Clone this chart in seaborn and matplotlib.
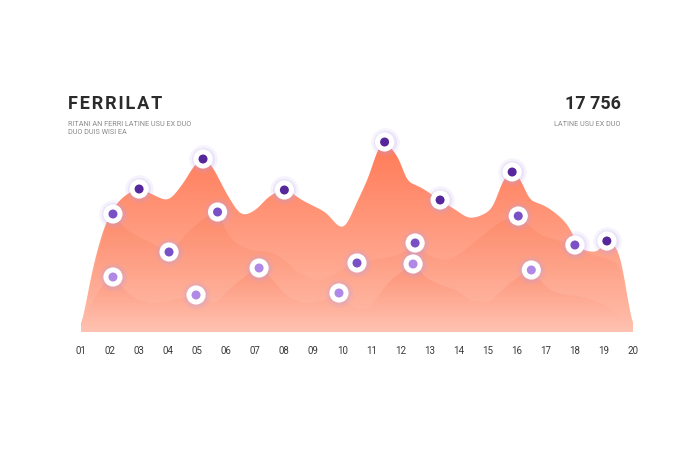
import numpy as np
import matplotlib as mpl
import matplotlib.pyplot as plt
import seaborn as sns

# x in tick units (01..20), y in pixel heights above baseline
top_x = [1.0, 1.5, 2.0, 2.5, 3.0, 3.5, 3.95, 4.5, 4.95, 5.2, 5.45, 5.7, 6.0, 6.6, 7.0, 7.5, 8.0, 8.6, 9.0,
         9.4, 10.0, 10.5, 11.0, 11.2, 11.45, 11.7, 12.0, 12.2, 12.67, 13.36, 13.9, 14.4, 15.1, 15.6, 15.84,
         16.1, 16.46, 16.9, 17.7, 18.28, 18.76, 19.1, 19.45, 20.0]
top_y = [2, 75, 118, 136, 143, 137, 132, 148, 168, 173, 168, 156, 139, 117, 122, 136, 142, 132, 126,
         120, 104, 130, 163, 182, 190, 183, 170, 152, 145, 132, 122, 114, 122, 155, 160,
         154, 132, 127, 109, 82, 80, 91, 84, 2]

mid_x = [1.0, 1.5, 2.1, 2.5, 3.0, 3.5, 4.03, 4.5, 5.0, 5.7, 6.0, 6.5, 7.0, 7.5, 8.0, 8.6, 9.2, 9.7, 10.1,
         10.5, 11.0, 11.5, 12.0, 12.5, 13.0, 13.6, 14.1, 14.8, 15.4, 16.05, 16.5, 17.0, 17.5, 18.0, 18.5,
         19.0, 19.5, 20.0]
mid_y = [2, 70, 118, 104, 95, 88, 80, 94, 108, 120, 100, 86, 81, 80, 72, 57, 52, 57, 65,
         69, 72, 74, 78, 89, 76, 72, 80, 96, 109, 116, 104, 95, 91, 87, 78,
         74, 68, 2]

low_x = [1.0, 1.5, 2.1, 2.5, 3.0, 3.5, 4.0, 4.5, 4.96, 5.6, 6.0, 6.5, 7.13, 7.6, 8.1, 8.8, 9.4, 9.88, 10.3,
         10.8, 11.2, 11.6, 12.0, 12.43, 12.8, 13.3, 13.9, 14.5, 15.0, 15.5, 16.0, 16.5, 17.0, 17.5, 18.0,
         18.5, 19.0, 19.5, 20.0]
low_y = [2, 36, 55, 42, 32, 29, 31, 34, 37, 29, 40, 52, 64, 52, 36, 29, 32, 39, 26,
         22, 35, 50, 59, 68, 56, 48, 42, 31, 30, 42, 54, 62, 45, 38, 36,
         33, 27, 18, 2]

# markers on each layer
dark_x = [3.0, 5.2, 8.0, 11.45, 13.36, 15.84, 19.1]
dark_y = [143, 173, 142, 190, 132, 160, 91]
mid_mx = [2.1, 4.03, 5.7, 10.5, 12.5, 16.05, 18.0]
mid_my = [118, 80, 120, 69, 89, 116, 87]
light_x = [2.1, 4.96, 7.13, 9.88, 12.43, 16.5]
light_y = [55, 37, 64, 39, 68, 62]

ticks = list(range(1, 21))
tick_labels = [f'{t:02d}' for t in ticks]


def pchip(x, y, xs):
    x = np.asarray(x, float)
    y = np.asarray(y, float)
    h = np.diff(x)
    d = np.diff(y) / h
    m = np.zeros_like(y)
    m[0], m[-1] = d[0], d[-1]
    for k in range(1, len(x) - 1):
        if d[k - 1] * d[k] > 0:
            w1 = 2 * h[k] + h[k - 1]
            w2 = h[k] + 2 * h[k - 1]
            m[k] = (w1 + w2) / (w1 / d[k - 1] + w2 / d[k])
    idx = np.clip(np.searchsorted(x, xs) - 1, 0, len(x) - 2)
    t = (xs - x[idx]) / h[idx]
    h00 = 2 * t**3 - 3 * t**2 + 1
    h10 = t**3 - 2 * t**2 + t
    h01 = -2 * t**3 + 3 * t**2
    h11 = t**3 - t**2
    return h00 * y[idx] + h10 * h[idx] * m[idx] + h01 * y[idx + 1] + h11 * h[idx] * m[idx + 1]


def soften(ys, step, sigma=0.11):
    # round off the corners a little, like the original's smooth outline
    n = int(3 * sigma / step)
    k = np.exp(-0.5 * (np.arange(-n, n + 1) * step / sigma) ** 2)
    k /= k.sum()
    padded = np.pad(ys, n, mode='edge')
    return np.convolve(padded, k, mode='valid')


sns.set_theme(style='white')
plt.rcParams['font.family'] = ['Roboto', 'DejaVu Sans']

fig = plt.figure(figsize=(7, 4.5), dpi=100)
ax = fig.add_axes([81 / 700, 118 / 450, 552 / 700, 200 / 450])

xs = np.linspace(1, 20, 1201)
step = xs[1] - xs[0]
layers = [
    (top_x, top_y, '#ff7a57', '#ffc0ad', 1.0),
    (mid_x, mid_y, '#fd8766', '#ffc0ae', 0.8),
    (low_x, low_y, '#fd8c6e', '#ffc4b4', 0.75),
]
for lx, ly, c_top, c_bot, a in layers:
    ys = np.maximum(soften(pchip(lx, ly, xs), step), 0)
    poly = ax.fill_between(xs, ys, 0, color='none', lw=0)
    cmap = mpl.colors.LinearSegmentedColormap.from_list('g', [c_bot, c_top])
    grad = np.linspace(0, 1, 256).reshape(-1, 1)
    im = ax.imshow(grad, extent=[1, 20, 0, max(ly)], origin='lower', aspect='auto',
                   cmap=cmap, alpha=a, zorder=1)
    im.set_clip_path(poly.get_paths()[0], transform=ax.transData)

for mx, my, c in [(dark_x, dark_y, '#56279a'), (mid_mx, mid_my, '#7a50c6'), (light_x, light_y, '#b088e6')]:
    ax.scatter(mx, my, s=420, color='#b9a0ee', alpha=0.12, lw=0, zorder=3, clip_on=False)
    ax.scatter(mx, my, s=280, color='#b9a0ee', alpha=0.18, lw=0, zorder=3, clip_on=False)
    sns.scatterplot(x=mx, y=my, s=190, color='white', edgecolor='none', ax=ax, zorder=4, clip_on=False)
    sns.scatterplot(x=mx, y=my, s=42, color=c, edgecolor='none', ax=ax, zorder=5, clip_on=False)

ax.set_xlim(1, 20)
ax.set_ylim(0, 200)
ax.set_xticks(ticks)
ax.set_xticklabels(tick_labels, fontsize=7, color='#3a3a3a')
ax.tick_params(axis='x', length=0, pad=10)
ax.set_yticks([])
sns.despine(ax=ax, left=True, bottom=True)
ax.patch.set_alpha(0)

fig.text(68 / 700, 1 - 104 / 450, '\u200a'.join('FERRILAT'), fontsize=13, fontweight='bold', color='#2b2b2b',
         va='center', ha='left')
fig.text(68 / 700, 1 - 125 / 450, 'RITANI AN FERRI LATINE USU EX DUO', fontsize=5.2, color='#8a8a8a',
         va='center', ha='left')
fig.text(68 / 700, 1 - 133 / 450, 'DUO DUIS WISI EA', fontsize=5.2, color='#8a8a8a', va='center', ha='left')
fig.text(621 / 700, 1 - 104 / 450, '17 756', fontsize=13, fontweight='bold', color='#2b2b2b',
         va='center', ha='right')
fig.text(620 / 700, 1 - 125 / 450, 'LATINE USU EX DUO', fontsize=5.2, color='#8a8a8a', va='center', ha='right')

fig.savefig('out.png', dpi=100)
